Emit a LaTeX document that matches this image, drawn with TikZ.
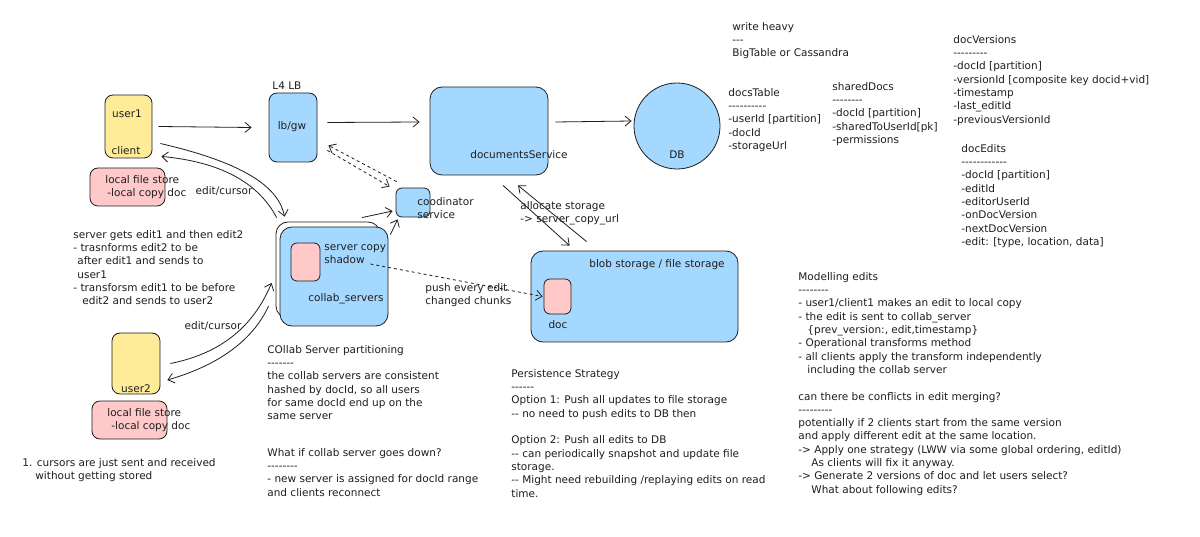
\documentclass[tikz,border=0pt]{standalone}
\usepackage{fontspec}
\setmainfont{DejaVu Sans}[Ligatures=TeXOff]
\usetikzlibrary{arrows.meta,calc}
\definecolor{ink}{HTML}{1E1E1E}
\definecolor{clientyellow}{HTML}{FFEC99}
\definecolor{serviceblue}{HTML}{A5D8FF}
\definecolor{storepink}{HTML}{FFC9C9}
\newcommand{\notefont}{\fontsize{10.5}{13.3}\selectfont}
\tikzstyle{every picture}=[x=1pt,y=-1pt,line width=0.8pt,
                           >={Straight Barb[length=6pt,width=10pt]}]
\tikzstyle{box}=[draw=ink,rounded corners=8pt,inner sep=0pt]
\tikzstyle{client}=[box,fill=clientyellow]
\tikzstyle{service}=[box,fill=serviceblue]
\tikzstyle{store}=[box,fill=storepink]
\tikzstyle{lbl}=[inner sep=0pt,font=\notefont,text=ink]
\tikzstyle{note}=[anchor=north west,align=left,inner sep=0pt,font=\notefont,text=ink]
\tikzstyle{flow}=[draw=ink,->]

\begin{document}
\begin{tikzpicture}
  \fill[white] (0,0) rectangle (1200,537);
  \useasboundingbox (0,0) rectangle (1200,537);

  % clients and their local stores
  \node[client, minimum width=47, minimum height=63] (user1) at (128.5,126.5) {};
  \node[store, minimum width=75, minimum height=38] (store1) at (127.5,187) {};
  \node[client, minimum width=48, minimum height=61] (user2) at (136,363.5) {};
  \node[store, minimum width=75, minimum height=38] (store2) at (129.5,420) {};
  \node[lbl] (user1name) at (127,114) {user1};
  \node[lbl] (user1kind) at (126,151) {client};
  \node[lbl] (user2name) at (136,389) {user2};
  \node[note] (store1text) at (105,175) {local file store\\\hspace*{2pt}-local copy doc};
  \node[note] (store2text) at (107,408) {local file store\\\hspace*{4pt}-local copy doc};

  % services
  \node[lbl, anchor=base west] (l4) at (272,90) {L4 LB};
  \node[service, minimum width=48, minimum height=69] (lb) at (293,127.5) {};
  \node[lbl] (lbtext) at (292,127) {lb/gw};
  \node[service, rounded corners=12pt, minimum width=118, minimum height=88] (docsvc) at (489,131) {};
  \node[lbl] (docsvctext) at (519,155) {documentsService};
  \node[service, circle, minimum size=86] (db) at (677,126) {};
  \node[lbl] (dbtext) at (677,155) {DB};
  \node[service, rounded corners=6pt, minimum width=34, minimum height=29] (coord) at (413,202.5) {};
  \node[note] (coordtext) at (417,197) {coodinator\\service};

  % collab servers (stacked)
  \node[box, fill=white, rounded corners=12pt, minimum width=104, minimum height=96] (collabback) at (328,270) {};
  \node[service, rounded corners=12pt, minimum width=108, minimum height=99] (collab) at (334,276.5) {};
  \node[store, rounded corners=6pt, minimum width=29, minimum height=38] (shadow) at (305.5,262) {};
  \node[note] (shadowtext) at (324,244) {server copy\\shadow};
  \node[lbl] (collabtext) at (346,299) {collab\_servers};

  % blob storage
  \node[service, rounded corners=12pt, minimum width=207, minimum height=91] (blob) at (634.5,296.5) {};
  \node[lbl] (blobtext) at (657,265) {blob storage / file storage};
  \node[store, rounded corners=6pt, minimum width=27, minimum height=35] (docfile) at (557.5,296.5) {};
  \node[lbl] (docfiletext) at (558,325) {doc};

  % connectors
  \draw[flow] ($(user1.east)+(6,0)$) -- ($(lb.west)+(-17,0)$);
  \draw[flow] ($(lb.east)+(10,-5)$) -- ($(docsvc.west)+(-10,-9)$);
  \draw[flow] ($(docsvc.east)+(7,-9)$) -- ($(db.west)+(-2,-5)$);
  \draw[flow] ($(user1.east)+(8,17)$) .. controls (240,162) and (278,185) .. ($(collabback.north west)+(9,-5)$);
  \draw[flow] ($(collabback.north west)+(1,-4)$) .. controls (258,182) and (220,162) .. ($(user1.south east)+(9,-2)$);
  \draw[flow] ($(user2.east)+(10,0)$) .. controls (228,352) and (256,320) .. ($(collabback.west)+(-4,13)$);
  \draw[flow] ($(collabback.west)+(-7,36)$) .. controls (252,342) and (216,366) .. ($(user2.east)+(7,16.5)$);
  \draw[flow, dashed] ($(lb.south east)+(10,-12)$) -- ($(coord.north west)+(-6,-1)$);
  \draw[flow, dashed] ($(coord.north west)+(1,-6)$) -- ($(lb.south east)+(11,-17)$);
  \draw[flow] ($(collabback.north)+(34,-4)$) -- ($(coord.west)+(-3,8.5)$);
  \draw[flow] ($(collab.north east)+(2,8)$) -- ($(coord.south west)+(2,2)$);
  \draw[flow, dashed] ($(collab.east)+(-18,-12.5)$) -- ($(docfile.west)+(-1,0)$);
  \draw[flow] ($(docsvc.south)+(14,10)$) -- ($(blob.north west)+(39,-5)$);
  \draw[flow] ($(blob.north west)+(56,-9)$) -- ($(docsvc.south)+(29,10)$);

  % connector labels
  \node[lbl] (edit1) at (224,191) {edit/cursor};
  \node[lbl] (edit2) at (213,326) {edit/cursor};
  \node[note] (pushtext) at (425,283) {push every edit\\changed chunks};
  \node[note] (alloctext) at (520,201) {allocate storage\\-> server\_copy\_url};

  % notes
  \node[note] (servernote) at (73,230) {server gets edit1 and then edit2\\
    - trasnforms edit2 to be\\\hspace*{4pt}after edit1 and sends to\\\hspace*{4pt}user1\\
    - transforsm edit1 to be before\\\hspace*{9pt}edit2 and sends to user2};
  \node[note] (cursornote) at (22,458) {1. cursors are just sent and received\\\hspace*{13pt}without getting stored};
  \node[note] (partnote) at (267,345) {COllab Server partitioning\\-------\\
    the collab servers are consistent\\hashed by docId, so all users\\
    for same docId end up on the\\same server};
  \node[note] (downnote) at (267,448) {What if collab server goes down?\\--------\\
    - new server is assigned for docId range\\and clients reconnect};
  \node[note] (persistnote) at (511,369) {Persistence Strategy\\------\\
    Option 1: Push all updates to file storage\\-- no need to push edits to DB then\\[13.3pt]
    Option 2: Push all edits to DB\\-- can periodically snapshot and update file\\storage.\\
    -- Might need rebuilding /replaying edits on read\\time.};
  \node[note] (dbnote) at (732,22) {write heavy\\---\\BigTable or Cassandra};
  \node[note] (docstable) at (728,88) {docsTable\\----------\\-userId [partition]\\-docId\\-storageUrl};
  \node[note] (shareddocs) at (832,82) {sharedDocs\\--------\\-docId [partition]\\-sharedToUserId[pk]\\-permissions};
  \node[note] (docversions) at (953,35) {docVersions\\---------\\-docId [partition]\\
    -versionId [composite key docid+vid]\\-timestamp\\-last\_editId\\-previousVersionId};
  \node[note] (docedits) at (961,144) {docEdits\\------------\\-docId [partition]\\-editId\\
    -editorUserId\\-onDocVersion\\-nextDocVersion\\-edit: [type, location, data]};
  \node[note] (modelnote) at (798,272) {Modelling edits\\--------\\
    - user1/client1 makes an edit to local copy\\- the edit is sent to collab\_server\\
    \hspace*{9pt}\{prev\_version:, edit,timestamp\}\\- Operational transforms method\\
    - all clients apply the transform independently\\\hspace*{9pt}including the collab server\\[13.3pt]
    can there be conflicts in edit merging?\\---------\\
    potentially if 2 clients start from the same version\\and apply different edit at the same location.\\
    -> Apply one strategy (LWW via some global ordering, editId)\\\hspace*{13pt}As clients will fix it anyway.\\
    -> Generate 2 versions of doc and let users select?\\\hspace*{13pt}What about following edits?};
\end{tikzpicture}
\end{document}
